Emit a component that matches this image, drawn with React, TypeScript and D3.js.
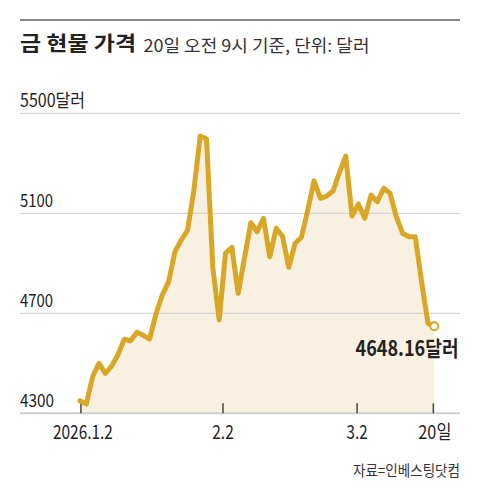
import React from "react";
import * as d3 from "d3";

// ---- data ----
const values: number[] = [
  4350, 4337, 4446, 4500, 4460, 4489, 4534, 4596, 4590, 4624,
  4612, 4597, 4697, 4773, 4826, 4946, 4993, 5033, 5193, 5409,
  5397, 4881, 4673, 4940, 4964, 4780, 4921, 5062, 5026, 5080,
  4926, 5040, 5009, 4884, 4980, 5004, 5113, 5230, 5160, 5169,
  5189, 5263, 5329, 5089, 5137, 5080, 5173, 5146, 5200, 5180,
  5086, 5020, 5006, 5006, 4825, 4660, 4648.16,
];
const xTickPos: number[] = [0.15, 22.6, 43.8, 55.85];
const xTickLabels: string[] = ["2026.1.2", "2.2", "3.2", "20일"];
const xTickWidths: number[] = [60, 21.5, 21, 33];
const yTicks: number[] = [5500, 5100, 4700, 4300];
const yTickLabels: string[] = ["5500달러", "5100", "4700", "4300"];
const yTickWidths: number[] = [65, 33, 33, 34];
const title = "금 현물 가격";
const subtitle = "20일 오전 9시 기준, 단위: 달러";
const lastLabel = "4648.16달러";
const source = "자료=인베스팅닷컴";

const FONT = "'Noto Sans CJK KR', 'Noto Sans', sans-serif";
const GOLD = "#D9A626";
const FILL = "#F8F1E1";

export default function App() {
  const W = 480, H = 500;
  const x = d3.scaleLinear().domain([0, values.length - 1]).range([80, 434.3]);
  const y = d3.scaleLinear().domain([4300, 5500]).range([413.3, 113.3]);
  const base = y(4300);

  const line = d3.line<number>().x((_, i) => x(i)).y((d) => y(d));
  const area = d3.area<number>().x((_, i) => x(i)).y0(base).y1((d) => y(d));
  const lastI = values.length - 1;

  return (
    <svg width={W} height={H} style={{ position: "absolute", left: 0, top: 0, background: "#fff" }}>
      <rect width={W} height={H} fill="#fff" />
      <line x1={20} x2={460} y1={20} y2={20} stroke="#8a8a8a" strokeWidth={2} />
      <text x={20} y={50.5} fontFamily={FONT} fontWeight={700} fontSize={20.5} fill="#222"
        textLength={116} lengthAdjust="spacingAndGlyphs">{title}</text>
      <text x={143.5} y={51.5} fontFamily={FONT} fontSize={17} fill="#333"
        textLength={226} lengthAdjust="spacingAndGlyphs">{subtitle}</text>

      <path d={area(values) || ""} fill={FILL} />

      {yTicks.map((t, i) => (
        <g key={t}>
          <line x1={20} x2={460} y1={y(t)} y2={y(t)} stroke="#cfcfcf"
            strokeWidth={t === 4300 ? 2 : 1} />
          <text x={20} y={y(t) - 6} fontFamily={FONT} fontSize={18} fill="#222"
            textLength={yTickWidths[i]} lengthAdjust="spacingAndGlyphs">{yTickLabels[i]}</text>
        </g>
      ))}

      {xTickPos.map((p, i) => (
        <g key={i}>
          <line x1={x(p)} x2={x(p)} y1={base - 10} y2={base} stroke="#444" strokeWidth={1.5} />
          <text x={x(p) + (i === 0 ? 2 : i === 3 ? 1.5 : 0)} y={439} textAnchor="middle" fontFamily={FONT}
            fontSize={19} fill="#222" textLength={xTickWidths[i]} lengthAdjust="spacingAndGlyphs">
            {xTickLabels[i]}
          </text>
        </g>
      ))}

      <path d={line(values) || ""} fill="none" stroke={GOLD} strokeWidth={5}
        strokeLinejoin="round" strokeLinecap="round" />
      <circle cx={x(lastI)} cy={y(values[lastI])} r={4} fill="#fff" stroke={GOLD} strokeWidth={2} />

      <text x={458.5} y={355.5} textAnchor="end" fontFamily={FONT} fontWeight={700} fontSize={21}
        fill="#222" textLength={103} lengthAdjust="spacingAndGlyphs">{lastLabel}</text>

      <text x={460} y={475.5} textAnchor="end" fontFamily={FONT} fontSize={15} fill="#333"
        textLength={107} lengthAdjust="spacingAndGlyphs">{source}</text>
    </svg>
  );
}
